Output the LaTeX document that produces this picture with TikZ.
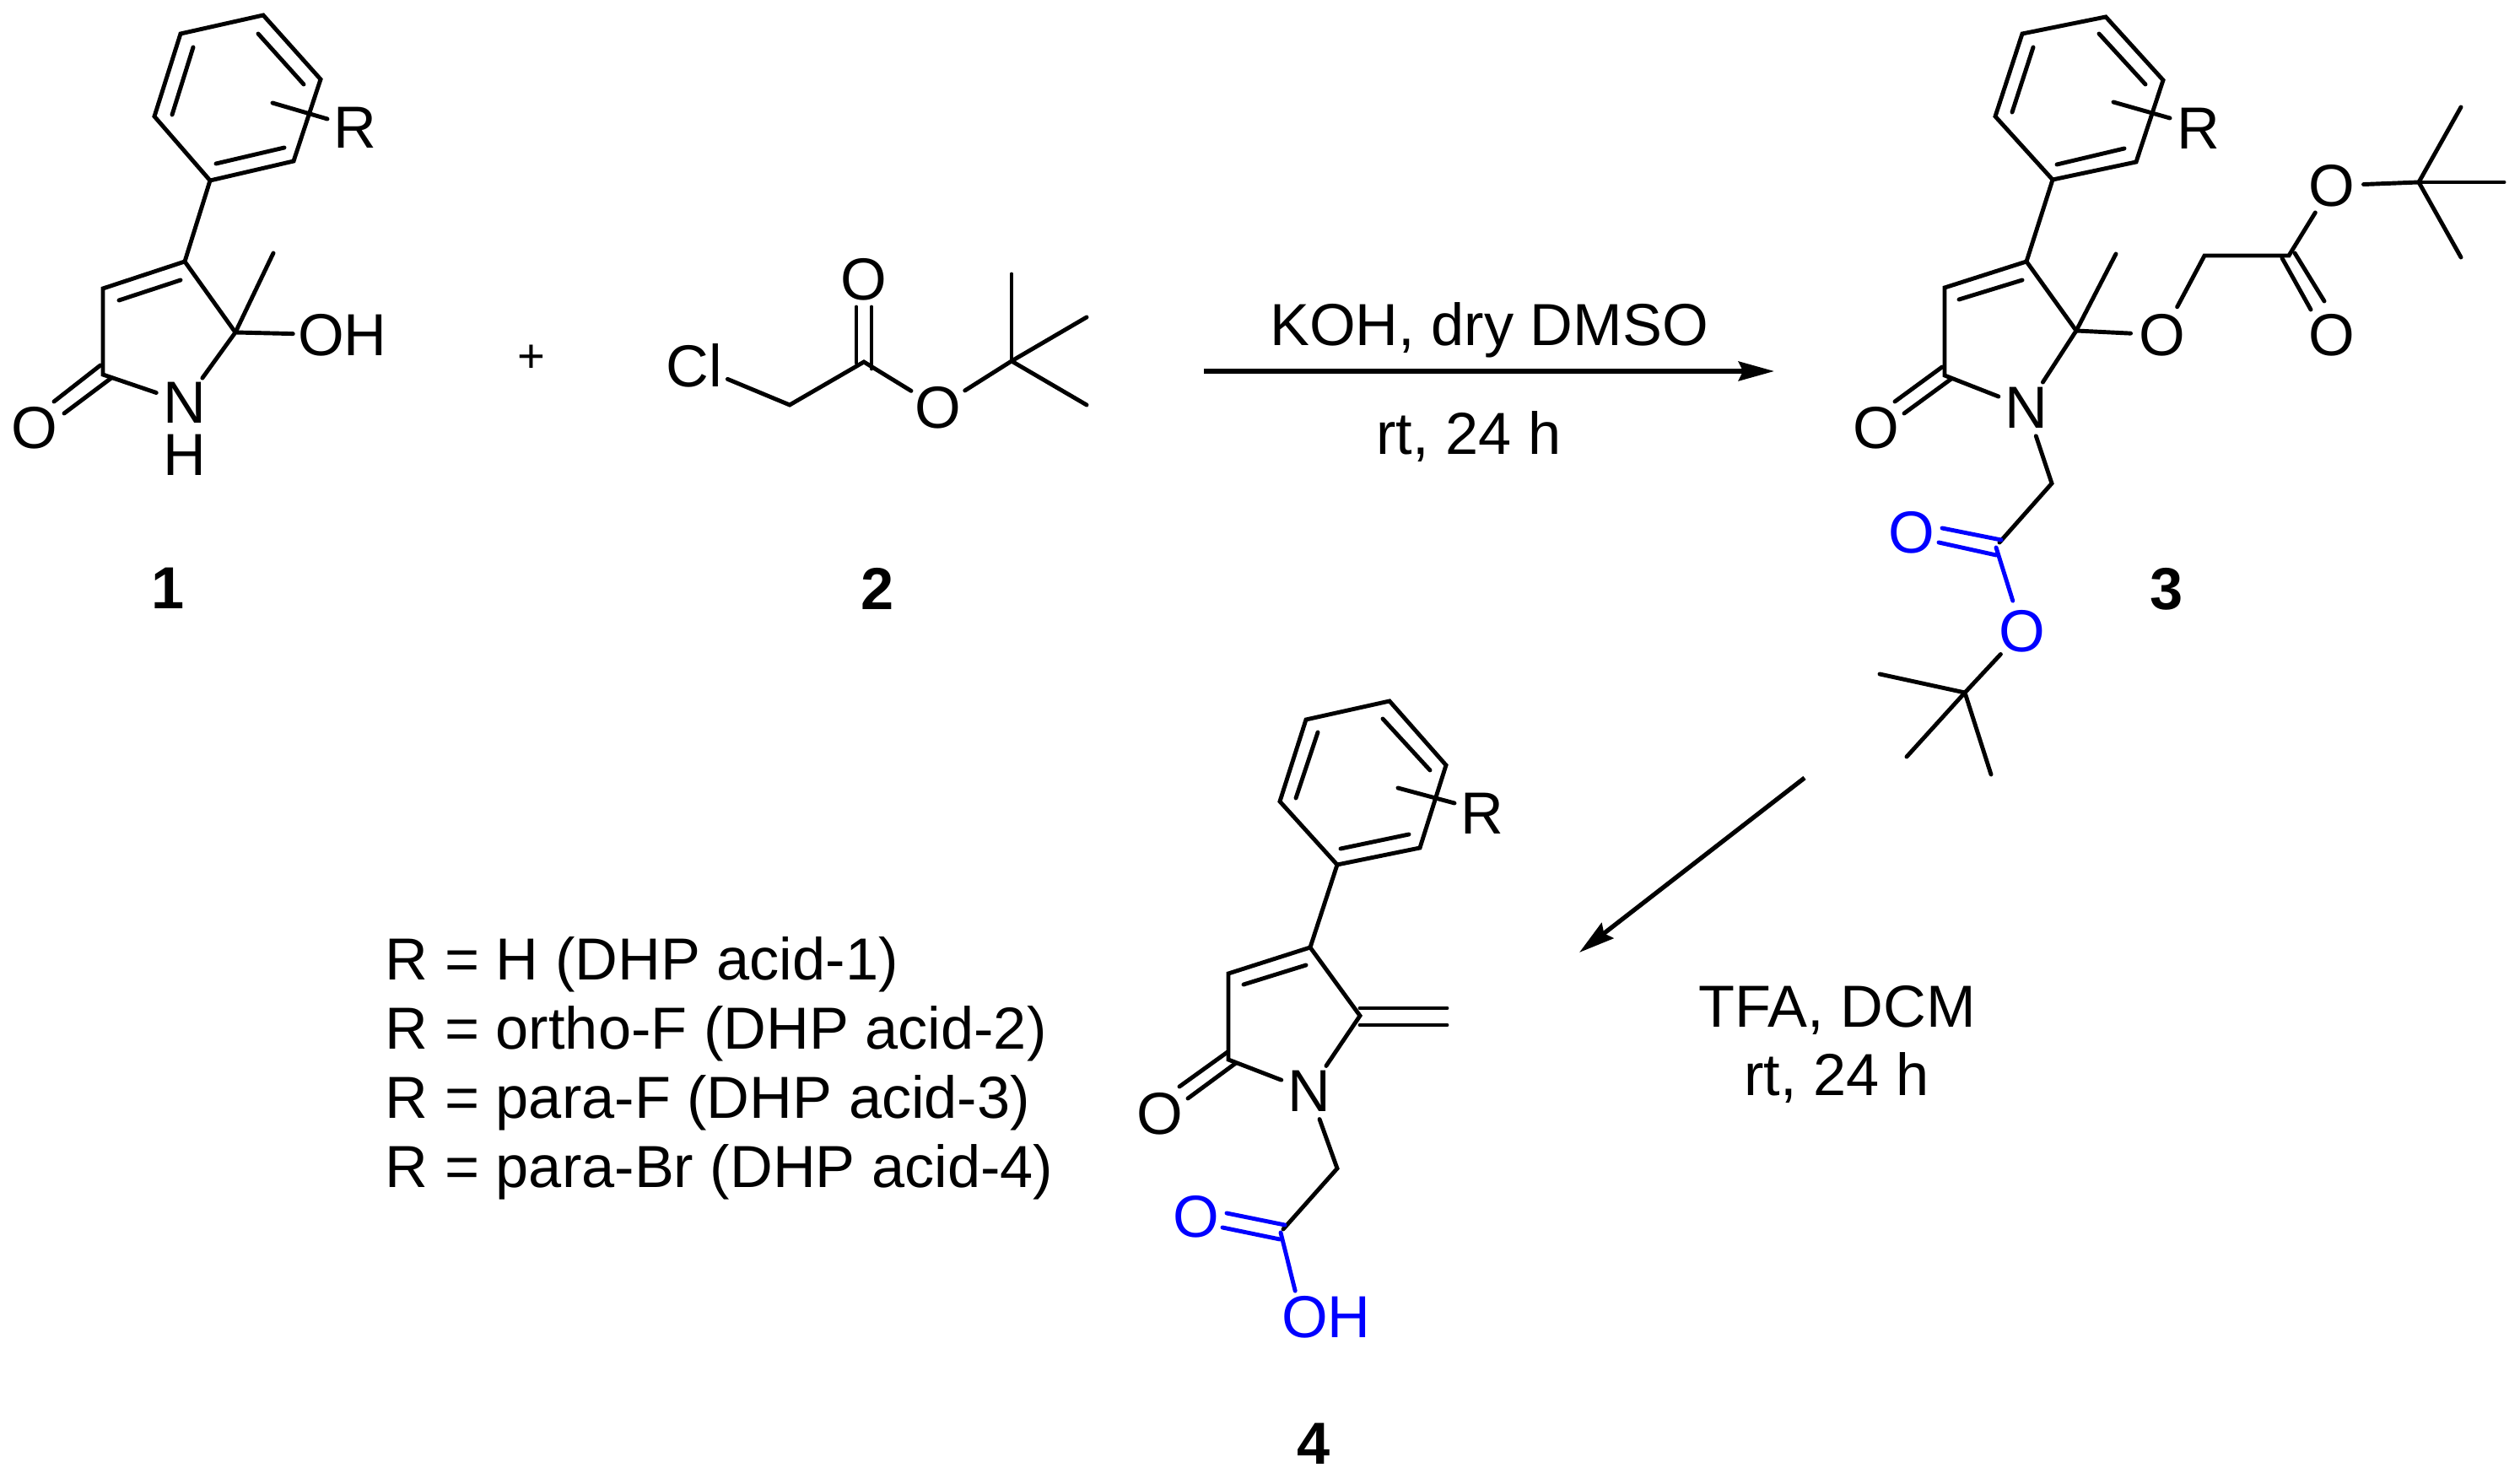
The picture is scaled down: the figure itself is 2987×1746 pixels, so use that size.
\documentclass[tikz,border=0pt]{standalone}
\usepackage{fontspec}
\setmainfont{Liberation Sans}
\usetikzlibrary{arrows.meta}
\definecolor{acidblue}{RGB}{0,0,255}
\tikzset{
    bond/.style={line width=1.4pt, line cap=round},
    bluebond/.style={line width=1.4pt, line cap=round, draw=acidblue},
    atom/.style={circle, inner sep=0pt, font=\fontsize{20}{24}\selectfont},
    chemtext/.style={rectangle, inner sep=1.5pt, font=\fontsize{20}{24}\selectfont},
    cpdlabel/.style={inner sep=0pt, font=\fontsize{20}{24}\selectfont\bfseries},
    reaction/.style={line width=1.5pt, -{Stealth[length=12pt, width=6.5pt, inset=1.5pt]}}
}
\begin{document}
\begin{tikzpicture}[x=0.01cm, y=-0.01cm]
    \useasboundingbox (0, 0) rectangle (2987, 1746);

    % compound 1
    \coordinate (a1) at (214, 40);
    \coordinate (a2) at (312, 18);
    \coordinate (a3) at (380, 94);
    \coordinate (a4) at (348, 191);
    \coordinate (a5) at (249, 214);
    \coordinate (a6) at (183, 138);
    \coordinate (a7) at (219, 310);
    \coordinate (a8) at (122, 342);
    \coordinate (a9) at (122, 444);
    \coordinate (a10) at (279, 394);
    \coordinate (a11) at (324, 300);
    \coordinate (a12) at (306, 40);
    \coordinate (a13) at (360, 100);
    \coordinate (a14) at (229, 56);
    \coordinate (a15) at (204, 136);
    \coordinate (a16) at (256, 194);
    \coordinate (a17) at (337, 175);
    \coordinate (a18) at (141, 356);
    \coordinate (a19) at (214, 332);
    \coordinate (a20) at (323, 122);
    \coordinate (a21) at (388, 141);
    \coordinate (a22) at (119, 433);
    \coordinate (a23) at (64, 476);
    \coordinate (a24) at (132, 448);
    \coordinate (a25) at (76, 490);
    \node[chemtext] (r1) at (421, 151) {R};
    \node[chemtext] (oh1) at (406, 397) {OH};
    \node[atom] (n1) at (219, 477) {N};
    \node[chemtext, inner sep=0pt] (h1) at (219, 539) {H};
    \node[atom] (o1) at (41, 507) {O};
    \node[cpdlabel] (lab1) at (199, 697) {1};
    \draw[bond] (a1) -- (a2) -- (a3) -- (a4) -- (a5) -- (a6) -- cycle;
    \draw[bond] (a12) -- (a13);
    \draw[bond] (a14) -- (a15);
    \draw[bond] (a16) -- (a17);
    \draw[bond] (a20) -- (a21);
    \draw[bond] (a5) -- (a7) -- (a8) -- (a9) -- (n1);
    \draw[bond] (a18) -- (a19);
    \draw[bond] (a7) -- (a10) -- (n1);
    \draw[bond] (a10) -- (a11);
    \draw[bond] (a10) -- (oh1);
    \draw[bond] (a22) -- (a23);
    \draw[bond] (a24) -- (a25);

    \node[font=\fontsize{16}{20}\selectfont, inner sep=0pt] (plus) at (630, 425) {+};

    % compound 2
    \coordinate (b1) at (936, 480);
    \coordinate (b2) at (1024, 429);
    \coordinate (b3) at (1199, 428);
    \coordinate (b4) at (1199, 325);
    \coordinate (b5) at (1288, 376);
    \coordinate (b6) at (1288, 480);
    \coordinate (b7) at (1015, 364);
    \coordinate (b8) at (1015, 430);
    \coordinate (b9) at (1033, 364);
    \coordinate (b10) at (1033, 437);
    \node[atom] (cl2) at (823, 433) {Cl};
    \node[atom] (o2) at (1024, 331) {O};
    \node[atom] (o3) at (1112, 483) {O};
    \node[cpdlabel] (lab2) at (1040, 698) {2};
    \draw[bond] (cl2) -- (b1) -- (b2) -- (o3);
    \draw[bond] (b7) -- (b8);
    \draw[bond] (b9) -- (b10);
    \draw[bond] (o3) -- (b3);
    \draw[bond] (b3) -- (b4);
    \draw[bond] (b3) -- (b5);
    \draw[bond] (b3) -- (b6);

    % first arrow
    \coordinate (start1) at (1427, 440);
    \coordinate (end1) at (2103, 440);
    \draw[reaction] (start1) -- (end1);
    \node[chemtext] (koh) at (1765, 391) {KOH, dry DMSO};
    \node[chemtext] (rt1) at (1741, 518) {rt, 24 h};

    % compound 3
    \coordinate (c1) at (2397, 40);
    \coordinate (c2) at (2496, 20);
    \coordinate (c3) at (2564, 95);
    \coordinate (c4) at (2532, 192);
    \coordinate (c5) at (2433, 213);
    \coordinate (c6) at (2365, 138);
    \coordinate (c7) at (2402, 310);
    \coordinate (c8) at (2305, 341);
    \coordinate (c9) at (2305, 445);
    \coordinate (c10) at (2461, 392);
    \coordinate (c11) at (2508, 301);
    \coordinate (c12) at (2488, 40);
    \coordinate (c13) at (2543, 100);
    \coordinate (c14) at (2410, 56);
    \coordinate (c15) at (2385, 133);
    \coordinate (c16) at (2438, 195);
    \coordinate (c17) at (2518, 176);
    \coordinate (c18) at (2322, 355);
    \coordinate (c19) at (2397, 332);
    \coordinate (c20) at (2505, 121);
    \coordinate (c21) at (2572, 140);
    \coordinate (c22) at (2613, 303);
    \coordinate (c23) at (2713, 303);
    \coordinate (c24) at (2867, 216);
    \coordinate (c25) at (2917, 127);
    \coordinate (c26) at (2968, 216);
    \coordinate (c27) at (2917, 305);
    \coordinate (c28) at (2705, 306);
    \coordinate (c29) at (2739, 367);
    \coordinate (c30) at (2720, 300);
    \coordinate (c31) at (2755, 357);
    \coordinate (c32) at (2246, 476);
    \coordinate (c33) at (2302, 435);
    \coordinate (c34) at (2257, 490);
    \coordinate (c35) at (2313, 449);
    \coordinate (c36) at (2432, 573);
    \coordinate (c37) at (2370, 643);
    \coordinate (c38) at (2302, 626);
    \coordinate (c39) at (2372, 640);
    \coordinate (c40) at (2298, 643);
    \coordinate (c41) at (2366, 658);
    \coordinate (c42) at (2366, 649);
    \coordinate (c43) at (2329, 821);
    \coordinate (c44) at (2228, 799);
    \coordinate (c45) at (2260, 897);
    \coordinate (c46) at (2360, 918);
    \node[chemtext] (r3) at (2606, 152) {R};
    \node[atom] (n3) at (2402, 483) {N};
    \node[atom] (o4) at (2563, 397) {O};
    \node[atom] (o5) at (2764, 220) {O};
    \node[atom] (o6) at (2764, 397) {O};
    \node[atom] (o7) at (2224, 507) {O};
    \node[atom, text=acidblue] (o8) at (2266, 631) {O};
    \node[atom, text=acidblue] (o9) at (2397, 748) {O};
    \node[cpdlabel] (lab3) at (2568, 698) {3};
    \draw[bond] (c1) -- (c2) -- (c3) -- (c4) -- (c5) -- (c6) -- cycle;
    \draw[bond] (c12) -- (c13);
    \draw[bond] (c14) -- (c15);
    \draw[bond] (c16) -- (c17);
    \draw[bond] (c20) -- (c21);
    \draw[bond] (c5) -- (c7) -- (c8) -- (c9) -- (n3);
    \draw[bond] (c18) -- (c19);
    \draw[bond] (c7) -- (c10) -- (n3);
    \draw[bond] (c10) -- (c11);
    \draw[bond] (c10) -- (o4);
    \draw[bond] (o4) -- (c22) -- (c23) -- (o5);
    \draw[bond] (o5) -- (c24);
    \draw[bond] (c24) -- (c25);
    \draw[bond] (c24) -- (c26);
    \draw[bond] (c24) -- (c27);
    \draw[bond] (c28) -- (c29);
    \draw[bond] (c30) -- (c31);
    \draw[bond] (c32) -- (c33);
    \draw[bond] (c34) -- (c35);
    \draw[bond] (n3) -- (c36) -- (c37);
    \draw[bluebond] (c38) -- (c39);
    \draw[bluebond] (c40) -- (c41);
    \draw[bluebond] (c42) -- (o9);
    \draw[bond] (o9) -- (c43);
    \draw[bond] (c43) -- (c44);
    \draw[bond] (c43) -- (c45);
    \draw[bond] (c43) -- (c46);

    % second arrow
    \coordinate (start2) at (2139, 922);
    \coordinate (end2) at (1872, 1129);
    \draw[reaction] (start2) -- (end2);
    \node[chemtext] (tfa) at (2178, 1197) {TFA, DCM};
    \node[chemtext] (rt2) at (2177, 1278) {rt, 24 h};

    % compound 4
    \coordinate (d1) at (1548, 853);
    \coordinate (d2) at (1647, 831);
    \coordinate (d3) at (1714, 907);
    \coordinate (d4) at (1683, 1005);
    \coordinate (d5) at (1585, 1025);
    \coordinate (d6) at (1517, 950);
    \coordinate (d7) at (1553, 1123);
    \coordinate (d8) at (1456, 1154);
    \coordinate (d9) at (1456, 1256);
    \coordinate (d10) at (1612, 1204);
    \coordinate (d11) at (1639, 852);
    \coordinate (d12) at (1695, 913);
    \coordinate (d13) at (1562, 868);
    \coordinate (d14) at (1536, 946);
    \coordinate (d15) at (1589, 1006);
    \coordinate (d16) at (1670, 989);
    \coordinate (d17) at (1474, 1167);
    \coordinate (d18) at (1548, 1144);
    \coordinate (d19) at (1657, 934);
    \coordinate (d20) at (1724, 952);
    \coordinate (d21) at (1612, 1195);
    \coordinate (d22) at (1715, 1195);
    \coordinate (d23) at (1612, 1215);
    \coordinate (d24) at (1715, 1215);
    \coordinate (d25) at (1398, 1288);
    \coordinate (d26) at (1455, 1247);
    \coordinate (d27) at (1408, 1302);
    \coordinate (d28) at (1465, 1260);
    \coordinate (d29) at (1585, 1385);
    \coordinate (d30) at (1521, 1457);
    \coordinate (d31) at (1454, 1438);
    \coordinate (d32) at (1523, 1452);
    \coordinate (d33) at (1449, 1455);
    \coordinate (d34) at (1517, 1469);
    \coordinate (d35) at (1518, 1461);
    \node[chemtext] (r4) at (1757, 964) {R};
    \node[atom] (n4) at (1552, 1293) {N};
    \node[atom] (o10) at (1375, 1320) {O};
    \node[atom, text=acidblue] (o11) at (1418, 1442) {O};
    \node[chemtext, text=acidblue] (oh4) at (1572, 1561) {OH};
    \node[cpdlabel] (lab4) at (1557, 1711) {4};
    \draw[bond] (d1) -- (d2) -- (d3) -- (d4) -- (d5) -- (d6) -- cycle;
    \draw[bond] (d11) -- (d12);
    \draw[bond] (d13) -- (d14);
    \draw[bond] (d15) -- (d16);
    \draw[bond] (d19) -- (d20);
    \draw[bond] (d5) -- (d7) -- (d8) -- (d9) -- (n4);
    \draw[bond] (d17) -- (d18);
    \draw[bond] (d7) -- (d10) -- (n4);
    \draw[bond] (d21) -- (d22);
    \draw[bond] (d23) -- (d24);
    \draw[bond] (d25) -- (d26);
    \draw[bond] (d27) -- (d28);
    \draw[bond] (n4) -- (d29) -- (d30);
    \draw[bluebond] (d31) -- (d32);
    \draw[bluebond] (d33) -- (d34);
    \draw[bluebond] (d35) -- (oh4.140);

    % list of R groups
    \node[chemtext, anchor=west] (list1) at (451, 1143) {R = H (DHP acid-1)};
    \node[chemtext, anchor=west] (list2) at (451, 1225) {R = ortho-F (DHP acid-2)};
    \node[chemtext, anchor=west] (list3) at (451, 1307) {R = para-F (DHP acid-3)};
    \node[chemtext, anchor=west] (list4) at (451, 1389) {R = para-Br (DHP acid-4)};
\end{tikzpicture}
\end{document}
